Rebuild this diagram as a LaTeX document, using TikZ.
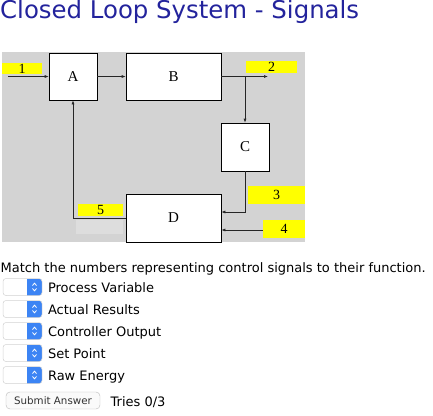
\documentclass[tikz,border=0pt]{standalone}
\usepackage{fontspec}
\setmainfont{Liberation Serif}
\newfontfamily\uifont{DejaVu Sans}
\usetikzlibrary{arrows.meta}
\definecolor{panelgray}{HTML}{D3D3D3}
\definecolor{lightpatch}{HTML}{DDDDDD}
\definecolor{marker}{HTML}{FFFF00}
\definecolor{titleblue}{HTML}{23239C}
\definecolor{selectblue}{HTML}{3C84F4}

\begin{document}
\begin{tikzpicture}[x=1pt, y=-1pt,
        block/.style={draw, fill=white, line width=0.6pt, inner sep=0pt,
          minimum width=#1, minimum height=47pt, font=\fontsize{15}{15}\selectfont},
        tag/.style={fill=marker, inner sep=0pt, font=\fontsize{14}{14}\selectfont},
        signal/.style={draw=black!85, line width=0.6pt, -{Latex[length=4pt,width=3pt]}},
        uitext/.style={inner sep=0pt, anchor=base west, font=\uifont\fontsize{13}{13}\selectfont},
        heading/.style={inner sep=0pt, anchor=base west, text=titleblue,
          font=\uifont\fontsize{24.4}{24.4}\selectfont},
        button/.style={draw=gray!55, fill=gray!4, rounded corners=4pt, inner sep=0pt,
          minimum width=94pt, minimum height=17pt, text=black!80,
          font=\uifont\fontsize{10.3}{10.3}\selectfont}
      ]
      \useasboundingbox (0,0) rectangle (433,415);

      % title
      \node[heading] (title) at (0,18) {Closed Loop System - Signals};

      % diagram panel
      \fill[panelgray] (2,52) rectangle (305,242);
      \fill[lightpatch] (76,220) rectangle (123,234);

      \node[block=48pt] (A) at ( 73.0, 76.5) {A};
      \node[block=95pt] (B) at (173.5, 76.5) {B};
      \node[block=48pt, minimum height=48pt] (C) at (245.0,147.0) {C};
      \node[block=95pt, minimum height=48pt] (D) at (173.5,218.0) {D};

      \node[tag, minimum width=40pt, minimum height=11pt] (s1) at ( 22.0, 68.5) {1};
      \node[tag, minimum width=51pt, minimum height=12pt] (s2) at (271.5, 67.0) {2};
      \node[tag, minimum width=57pt, minimum height=18pt] (s3) at (276.5,195.0) {3};
      \node[tag, minimum width=42pt, minimum height=18pt] (s4) at (284.0,229.0) {4};
      \node[tag, minimum width=45pt, minimum height=12pt] (s5) at (100.5,210.0) {5};

      \coordinate (in1) at (8,76.5);
      \coordinate (out2) at (268,76.5);
      \coordinate (tap) at (245,76.5);
      \coordinate (in4) at (263,230);

      \draw[signal] (in1) -- (A.west);
      \draw[signal] (A.east) -- (B.west);
      \draw[signal] (B.east) -- (out2);
      \draw[signal] (tap) -- (C.north);
      \draw[signal] (C.south) |- ([yshift=6pt]D.east);
      \draw[signal] (in4) -- (in4 -| D.east);
      \draw[signal] (D.west) -| (A.south);

      % question
      \node[uitext] (question) at (0.5,272)
        {Match the numbers representing control signals to their function.};

      \foreach \yc/\lbl in {287/Process Variable, 309/Actual Results,
          331/Controller Output, 353/Set Point, 375/Raw Energy} {
        \begin{scope}
          \clip[rounded corners=3pt] (3,\yc-8.5) rectangle (42,\yc+8.5);
          \fill[white] (3,\yc-8.5) rectangle (42,\yc+8.5);
          \fill[selectblue] (27,\yc-8.5) rectangle (42,\yc+8.5);
        \end{scope}
        \draw[gray!35, line width=0.5pt, rounded corners=3pt] (3,\yc-8.5) rectangle (42,\yc+8.5);
        \draw[white, line width=0.8pt] (32.5,\yc-1.5) -- (34.5,\yc-3.8) -- (36.5,\yc-1.5);
        \draw[white, line width=0.8pt] (32.5,\yc+1.5) -- (34.5,\yc+3.8) -- (36.5,\yc+1.5);
        \node[uitext] (opt\yc) at (47.8,\yc+5) {\lbl};
      }

      \node[button] (submit) at (53,400.5) {Submit Answer};
      \node[uitext] (tries) at (110.5,406) {Tries 0/3};

    \end{tikzpicture}
\end{document}
